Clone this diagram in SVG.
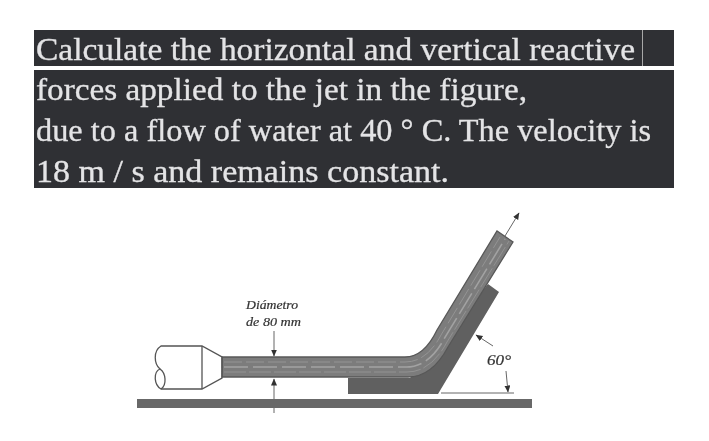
<svg xmlns="http://www.w3.org/2000/svg" width="709" height="441" viewBox="0 0 709 441">
<style>
.q{font-family:"Liberation Serif",serif;font-size:31px;fill:#e4e4e6;stroke:#e4e4e6;stroke-width:.3}
.l{font-family:"Liberation Serif",serif;font-style:italic;font-size:12.5px;fill:#333;stroke:#333;stroke-width:.2}
.o{fill:none;stroke:#555;stroke-width:1.3}
.d{fill:none;stroke:#666;stroke-width:1}
.s{fill:none;stroke-linejoin:round}
</style>
<defs>
<filter id="b" x="-5%" y="-5%" width="110%" height="110%"><feGaussianBlur stdDeviation="0.6"/></filter>
<filter id="t" x="-2%" y="-10%" width="104%" height="120%"><feGaussianBlur stdDeviation="0.3"/></filter>
<marker id="a" markerWidth="8" markerHeight="8" refX="6.5" refY="3" orient="auto" markerUnits="userSpaceOnUse"><path d="M0 0L7 3L0 6Z" fill="#333"/></marker>
</defs>
<rect width="709" height="441" fill="#fff"/>
<g id="question">
<rect x="34" y="30" width="640" height="36" fill="#2f3034"/>
<rect x="34" y="70" width="640" height="118" fill="#2f3034"/>
<rect x="642" y="30" width="1" height="36" fill="#a8a8a8"/>
<g filter="url(#t)">
<text class="q" x="36" y="60" textLength="599" lengthAdjust="spacingAndGlyphs">Calculate the horizontal and vertical reactive</text>
<text class="q" x="36" y="100" textLength="491" lengthAdjust="spacingAndGlyphs">forces applied to the jet in the figure,</text>
<text class="q" x="36" y="141" textLength="615" lengthAdjust="spacingAndGlyphs">due to a flow of water at 40 ° C. The velocity is</text>
<text class="q" x="36" y="182" textLength="413" lengthAdjust="spacingAndGlyphs">18 m / s and remains constant.</text>
</g>
</g>
<g filter="url(#b)">
<g id="ground"><rect x="137" y="399" width="395" height="9" fill="#686868"/></g>
<g id="plate"><path d="M348 378H410L488 284L499 292L438 394H348Z" fill="#606060"/></g>
<g id="jet">
<path d="M222 357H405Q424 357 437 330L497 231L513 242L448 347Q432 377 408 377H222Z" fill="#7c7c7c" stroke="#585858" stroke-width="1.3"/>
<path class="s" d="M224 362H405Q427 362 441 335L500 237" stroke="#949494" stroke-width="1" stroke-dasharray="18 4"/>
<path class="s" d="M224 367H406Q429 367 444 339L505 239" stroke="#a2a2a2" stroke-width="1.6" stroke-dasharray="24 5"/>
<path class="s" d="M224 372H407Q431 372 447 342L509 241" stroke="#929292" stroke-width="1" stroke-dasharray="22 3"/>
</g>
<g id="nozzle">
<path class="o" d="M161 346H202L222 357V378L202 389H161C154 385 153 372 160 369C154 364 153 351 161 346Z" fill="#fff"/>
<path class="o" d="M202 346V389M160 369C166 373 167 385 161 389"/>
</g>
<g id="connectors">
<path class="d" d="M274 331V356" marker-end="url(#a)"/>
<path class="d" d="M274 413V379" marker-end="url(#a)"/>
<path class="d" d="M505 236L519 213" marker-end="url(#a)"/>
<path class="d" d="M493 346L476 335" marker-end="url(#a)" stroke-width="1.3"/>
<path class="d" d="M506 371L508 392" marker-end="url(#a)"/>
<path class="d" d="M441 393H514"/>
</g>
<g id="labels">
<text class="l" x="246" y="309" textLength="52" lengthAdjust="spacingAndGlyphs">Diámetro</text>
<text class="l" x="246" y="326" textLength="55" lengthAdjust="spacingAndGlyphs">de 80 mm</text>
<text class="l" x="487" y="365" textLength="24" lengthAdjust="spacingAndGlyphs" style="font-size:15px">60°</text>
</g>
</g>
</svg>
